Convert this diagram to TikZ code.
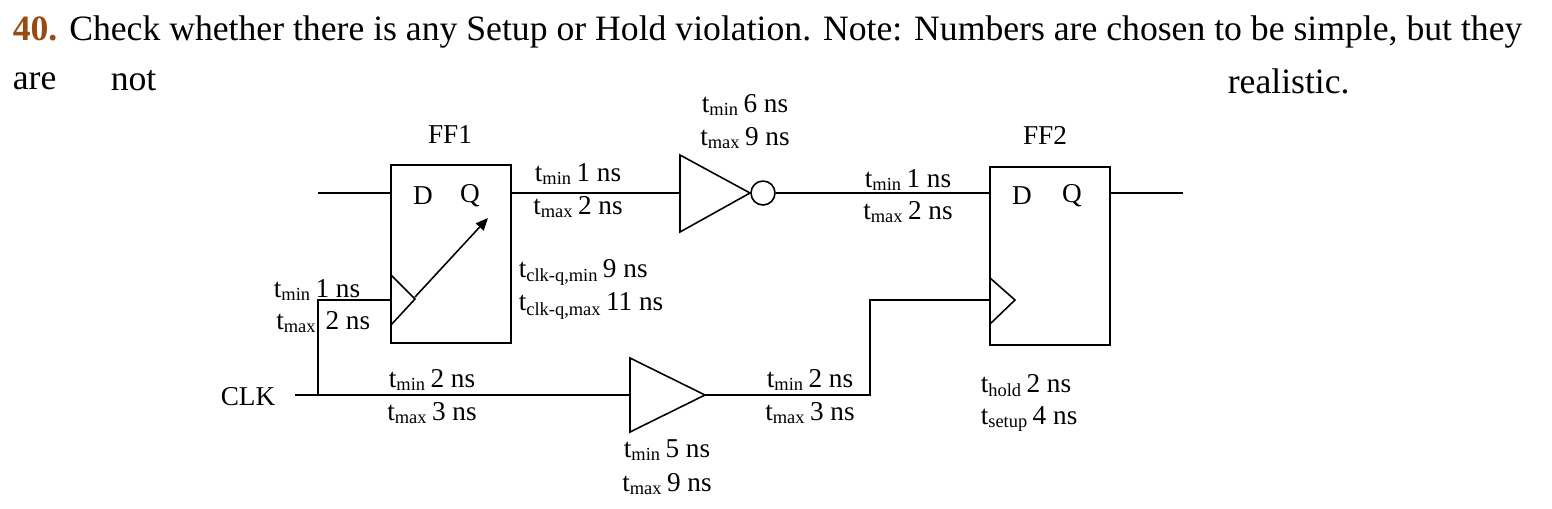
\documentclass[tikz,border=0pt]{standalone}
\usepackage{fontspec}
\setmainfont{Liberation Serif}
\usetikzlibrary{arrows.meta}
\definecolor{numc}{RGB}{150,75,20}
\newcommand{\tl}[2]{t\textsubscript{\fontsize{10.5}{10.5}\selectfont #1}\,#2}
\begin{document}
\begin{tikzpicture}[x=0.02cm,y=-0.02cm,line width=0.9pt,
 lbl/.style={font=\fontsize{15.5}{18}\selectfont,inner sep=0pt},
 big/.style={font=\fontsize{20.3}{23}\selectfont,inner sep=0pt}]
\useasboundingbox (0,0) rectangle (1552,508);
\node[big,anchor=west] (t1) at (12,32) {\textbf{\color{numc}40.} Check whether there is any Setup or Hold violation. Note: Numbers are chosen to be simple, but they};
\node[big,anchor=west] (t2) at (12,81) {are};
\node[big,anchor=west] (t3) at (110,81) {not};
\node[big,anchor=west] (t4) at (1227,81) {realistic.};
% flip-flops
\node[draw,minimum width=2.4cm,minimum height=3.56cm,inner sep=0pt] (ff1) at (451,254) {};
\node[draw,minimum width=2.4cm,minimum height=3.56cm,inner sep=0pt] (ff2) at (1050,256) {};
\node[lbl] (n1) at (450,135) {FF1};
\node[lbl] (n2) at (1045,135) {FF2};
\node[lbl] (d1) at (423,196) {D};
\node[lbl] (q1) at (470,196) {Q};
\node[lbl] (d2) at (1022,196) {D};
\node[lbl] (q2) at (1072,196) {Q};
\draw (391,275) -- (415,299) -- (391,325);
\draw (990,278) -- (1015,300) -- (990,324);
\draw[-{Triangle[length=7pt,width=6pt]}] (415,297) -- (488,218);
% data path
\coordinate (in1) at (318,193);
\coordinate (out2) at (1183,193);
\draw (in1) -- (391,193);
\draw (1110,193) -- (out2);
\draw (511,193) -- (680,193);
\draw (680,155) -- (750,193) -- (680,232) -- cycle;
\node[draw,circle,minimum size=0.48cm,inner sep=0pt] (bub) at (763,193) {};
\draw (bub.east) -- (990,193);
% clock
\node[lbl] (clk) at (248,397) {CLK};
\draw (295,395) -- (630,395);
\draw (318,395) -- (318,300) -- (391,300);
\draw (630,358) -- (705,395) -- (630,432) -- cycle;
\draw (705,395) -- (870,395) -- (870,300) -- (990,300);
% labels
\node[lbl] at (578,174) {\tl{min}{1 ns}};
\node[lbl] at (578,207) {\tl{max}{2 ns}};
\node[lbl] at (908,180) {\tl{min}{1 ns}};
\node[lbl] at (908,212) {\tl{max}{2 ns}};
\node[lbl] at (745,105) {\tl{min}{6 ns}};
\node[lbl] at (745,138) {\tl{max}{9 ns}};
\node[lbl,anchor=west] at (518,272) {\tl{clk-q,min}{9 ns}};
\node[lbl,anchor=west] at (518,306) {\tl{clk-q,max}{11 ns}};
\node[lbl,anchor=east] at (361,290) {\tl{min}{1 ns}};
\node[lbl,anchor=east] at (371,322) {\tl{max}{\,2 ns}};
\node[lbl] at (432,380) {\tl{min}{2 ns}};
\node[lbl] at (432,413) {\tl{max}{3 ns}};
\node[lbl] at (810,380) {\tl{min}{2 ns}};
\node[lbl] at (810,413) {\tl{max}{3 ns}};
\node[lbl] at (667,450) {\tl{min}{5 ns}};
\node[lbl] at (667,484) {\tl{max}{9 ns}};
\node[lbl,anchor=west] at (980,386) {\tl{hold}{2 ns}};
\node[lbl,anchor=west] at (980,419) {\tl{setup}{4 ns}};
\end{tikzpicture}
\end{document}
